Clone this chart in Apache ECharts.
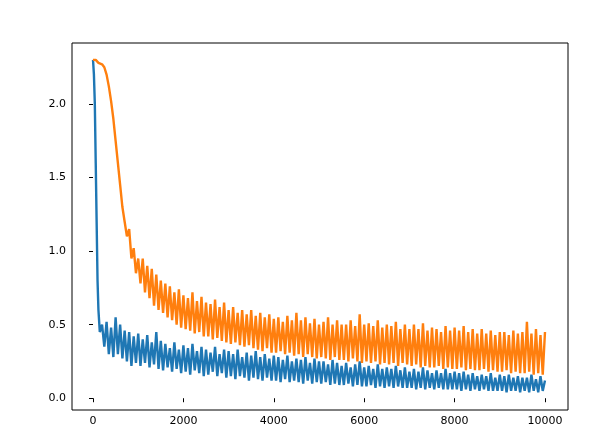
<!DOCTYPE html>
<html><head><meta charset="utf-8">
<script src="https://cdn.jsdelivr.net/npm/echarts@6/dist/echarts.min.js"></script>
<style>html,body{margin:0;padding:0;background:#fff}#c{width:607px;height:444px}</style>
</head><body><div id="c"></div>
<script>
const earlySteps = [0,20,40,60,80,100,120,150,200,250,300,350,400,450,500,550,600,650,700,750,800,850,900,950,1000];
const steps = earlySteps.slice();
for (let s = 1050; s <= 10000; s += 50) steps.push(s);

const blueLoss = [2.3,2.2,2.0,1.6,1.2,0.8,0.6,0.45,0.5,0.35,0.52,0.3,0.48,0.28,0.55,0.3,0.5,0.27,0.46,0.25,0.45,0.22,0.42,0.24,0.44,
0.22,0.4,0.24,0.43,0.21,0.38,0.23,0.45,0.2,0.39,
0.19,0.37,0.21,0.34,0.18,0.38,0.2,0.33,0.17,0.36,
0.18,0.34,0.16,0.37,0.19,0.32,0.17,0.35,0.15,0.33,
0.16,0.31,0.18,0.35,0.15,0.3,0.17,0.33,0.14,0.32,
0.15,0.3,0.13,0.33,0.15,0.28,0.14,0.31,0.12,0.29,
0.14,0.32,0.13,0.28,0.12,0.3,0.14,0.27,0.12,0.29,
0.12,0.28,0.11,0.26,0.13,0.29,0.11,0.25,0.12,0.27,
0.11,0.26,0.1,0.28,0.12,0.24,0.1,0.27,0.11,0.25,
0.1,0.25,0.11,0.23,0.09,0.26,0.1,0.24,0.09,0.22,
0.09,0.24,0.1,0.21,0.08,0.23,0.09,0.25,0.08,0.21,
0.08,0.22,0.09,0.2,0.07,0.23,0.08,0.2,0.07,0.21,
0.08,0.2,0.07,0.22,0.08,0.19,0.07,0.21,0.07,0.18,
0.07,0.2,0.06,0.18,0.07,0.21,0.06,0.19,0.07,0.17,
0.06,0.19,0.07,0.17,0.06,0.2,0.06,0.17,0.06,0.18,
0.06,0.17,0.05,0.18,0.06,0.16,0.05,0.17,0.06,0.15,
0.05,0.16,0.06,0.15,0.05,0.17,0.05,0.14,0.05,0.16,
0.05,0.15,0.04,0.16,0.05,0.14,0.05,0.15,0.04,0.14,
0.05,0.14,0.04,0.16,0.05,0.13,0.04,0.15,0.05,0.12];

const orangeLoss = [2.3,2.3,2.3,2.3,2.29,2.29,2.28,2.28,2.27,2.25,2.2,2.12,2.02,1.9,1.75,1.6,1.45,1.3,1.2,1.1,1.15,0.95,1.02,0.85,0.95,
0.78,0.95,0.72,0.9,0.68,0.88,0.63,0.84,0.6,0.8,
0.58,0.78,0.55,0.76,0.53,0.72,0.5,0.74,0.48,0.7,
0.47,0.68,0.46,0.72,0.44,0.66,0.45,0.69,0.42,0.65,
0.42,0.64,0.4,0.67,0.41,0.62,0.39,0.65,0.38,0.6,
0.37,0.62,0.38,0.58,0.36,0.6,0.35,0.57,0.36,0.6,
0.34,0.56,0.33,0.58,0.32,0.55,0.34,0.57,0.31,0.54,
0.31,0.55,0.32,0.52,0.3,0.56,0.31,0.53,0.29,0.58,
0.3,0.53,0.28,0.55,0.3,0.51,0.28,0.54,0.27,0.5,
0.28,0.52,0.27,0.55,0.26,0.5,0.28,0.53,0.26,0.5,
0.26,0.5,0.25,0.53,0.27,0.49,0.25,0.57,0.24,0.5,
0.25,0.51,0.24,0.49,0.25,0.53,0.23,0.48,0.24,0.5,
0.23,0.49,0.24,0.52,0.22,0.47,0.24,0.5,0.23,0.47,
0.22,0.5,0.23,0.47,0.21,0.51,0.22,0.46,0.21,0.48,
0.21,0.47,0.22,0.45,0.2,0.49,0.21,0.46,0.2,0.48,
0.2,0.46,0.21,0.49,0.19,0.45,0.2,0.47,0.19,0.44,
0.19,0.47,0.2,0.44,0.18,0.46,0.19,0.43,0.18,0.45,
0.18,0.45,0.19,0.43,0.17,0.46,0.18,0.44,0.17,0.45,
0.17,0.52,0.18,0.44,0.16,0.47,0.17,0.43,0.16,0.45,
0.17,0.46,0.16,0.42,0.17,0.45,0.16,0.43,0.17,0.4];

const xTicks = [0,2000,4000,6000,8000,10000];
const yTicks = [0.0,0.5,1.0,1.5,2.0];

const font = {fontFamily:'DejaVu Sans', fontSize:11, color:'#000'};
const chart = echarts.init(document.getElementById('c'));
chart.setOption({
  animation:false,
  grid:{left:72,right:39,top:43,bottom:34,show:true,borderColor:'#000',borderWidth:1,backgroundColor:'transparent'},
  xAxis:{type:'value',min:-465,max:10509,splitLine:{show:false},
    axisLine:{show:false},
    axisTick:{show:true,inside:false,length:4,lineStyle:{color:'#000'},customValues:xTicks},
    axisLabel:Object.assign({customValues:xTicks,margin:6,formatter:v=>String(v)},font)},
  yAxis:{type:'value',min:-0.08,max:2.415,splitLine:{show:false},
    axisLine:{show:false},
    axisTick:{show:true,inside:false,length:4,lineStyle:{color:'#000'},customValues:yTicks},
    axisLabel:Object.assign({customValues:yTicks,margin:6,formatter:v=>v.toFixed(1)},font)},
  series:[
    {type:'line',data:steps.map((s,i)=>[s,blueLoss[i]]),showSymbol:false,lineStyle:{color:'#1f77b4',width:2.4,join:'bevel'},z:3},
    {type:'line',data:steps.map((s,i)=>[s,orangeLoss[i]]),showSymbol:false,lineStyle:{color:'#ff7f0e',width:2.4,join:'bevel'},z:4}
  ]
});
</script></body></html>
